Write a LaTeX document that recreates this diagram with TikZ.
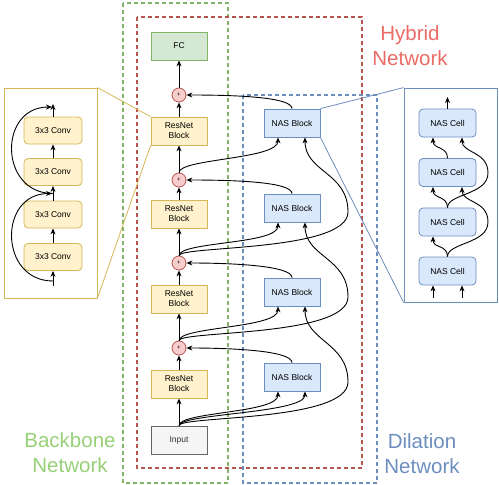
\documentclass[tikz,border=0pt]{standalone}
\usepackage{fontspec}
\setmainfont{Liberation Sans}
\usetikzlibrary{arrows.meta}
\definecolor{ylwfill}{HTML}{FFF2CC}
\definecolor{ylwline}{HTML}{D6B656}
\definecolor{blufill}{HTML}{DAE8FC}
\definecolor{bluline}{HTML}{6C8EBF}
\definecolor{grnfill}{HTML}{D5E8D4}
\definecolor{grnline}{HTML}{82B366}
\definecolor{redfill}{HTML}{F8CECC}
\definecolor{redline}{HTML}{B85450}
\definecolor{gryfill}{HTML}{F5F5F5}
\definecolor{gryline}{HTML}{666666}
\definecolor{hybtext}{HTML}{EA6B66}
\definecolor{bbtext}{HTML}{97D077}
\definecolor{diltext}{HTML}{6C8EBF}

\begin{document}
\begin{tikzpicture}[x=1pt,y=-1pt,
		box/.style={draw,line width=0.8pt,minimum width=56pt,minimum height=28pt,inner sep=0pt,align=center,font=\fontsize{8.5}{10}\selectfont},
		resblock/.style={box,draw=ylwline,fill=ylwfill},
		nasblock/.style={box,draw=bluline,fill=blufill},
		convbox/.style={resblock,rounded corners=4pt,minimum width=58pt,minimum height=27pt},
		cellbox/.style={nasblock,rounded corners=4pt,minimum width=57pt},
		plus/.style={circle,draw=redline,fill=redfill,line width=0.8pt,minimum size=14pt,inner sep=0pt,font=\fontsize{6}{6}\selectfont},
		arr/.style={-{Stealth[length=6pt,width=5pt]},line width=0.9pt},
		frame/.style={line width=1.1pt,dash pattern=on 4pt off 3pt},
		bigtext/.style={align=center,font=\fontsize{20.5}{25}\selectfont}]
		\useasboundingbox (0,0) rectangle (499,485);
		\draw[frame,draw=grnline] (123,3) rectangle (228,483);
		\draw[frame,draw=redline] (137,17) rectangle (362,468);
		\draw[frame,draw=bluline] (243,95) rectangle (377,483);
		\node[bigtext,text=hybtext] (hyblabel) at (410,46) {Hybrid\\Network};
		\node[bigtext,text=bbtext] (bblabel) at (70,453) {Backbone\\Network};
		\node[bigtext,text=diltext] (dillabel) at (422,454) {Dilation\\Network};

		\node[box,draw=grnline,fill=grnfill] (fc) at (179,46) {FC};
		\node[plus] (p1) at (179,95) {+};
		\node[resblock] (res1) at (179,131) {ResNet\\Block};
		\node[plus] (p2) at (179,180) {+};
		\node[resblock] (res2) at (179,214) {ResNet\\Block};
		\node[plus] (p3) at (179,263) {+};
		\node[resblock] (res3) at (179,299) {ResNet\\Block};
		\node[plus] (p4) at (179,348) {+};
		\node[resblock] (res4) at (179,384) {ResNet\\Block};
		\node[box,draw=gryline,fill=gryfill,text=black!80] (in) at (179,440) {Input};
		\node[nasblock] (nas1) at (292,123) {NAS Block};
		\node[nasblock] (nas2) at (292,208) {NAS Block};
		\node[nasblock] (nas3) at (292,292) {NAS Block};
		\node[nasblock] (nas4) at (292,377) {NAS Block};

		\draw[arr] (in) -- (res4);
		\draw[arr] (res4) -- (p4);
		\draw[arr] (p4) -- (res3);
		\draw[arr] (res3) -- (p3);
		\draw[arr] (p3) -- (res2);
		\draw[arr] (res2) -- (p2);
		\draw[arr] (p2) -- (res1);
		\draw[arr] (res1) -- (p1);
		\draw[arr] (p1) -- (fc);

		\draw[arr] (nas1.north) .. controls +(0,-12) and +(45,0) .. (p1.east);
		\draw[arr] (nas2.north) .. controls +(0,-12) and +(45,0) .. (p2.east);
		\draw[arr] (nas3.north) .. controls +(0,-12) and +(45,0) .. (p3.east);
		\draw[arr] (nas4.north) .. controls +(0,-12) and +(45,0) .. (p4.east);

		\draw[arr] (p2.north) .. controls +(0,-14) and +(0,22) .. ([xshift=-14pt]nas1.south);
		\draw[arr] (p3.north) .. controls +(0,-14) and +(0,22) .. ([xshift=-14pt]nas2.south);
		\draw[arr] (p4.north) .. controls +(0,-14) and +(0,22) .. ([xshift=-14pt]nas3.south);
		\draw[arr] (in.north) .. controls +(0,-14) and +(0,22) .. ([xshift=-14pt]nas4.south);
		\draw[arr] (in.north) .. controls +(0,-12) and +(0,22) .. ([xshift=13pt]nas4.south);

		\draw[arr] (p3.north) .. controls +(0,-10) and +(0,40) .. (348,212) .. controls +(0,-40) and +(0,35) .. ([xshift=13pt]nas1.south);
		\draw[arr] (p4.north) .. controls +(0,-10) and +(0,40) .. (348,297) .. controls +(0,-40) and +(0,35) .. ([xshift=13pt]nas2.south);
		\draw[arr] (in.north) .. controls +(0,-10) and +(0,40) .. (348,382) .. controls +(0,-40) and +(0,35) .. ([xshift=13pt]nas3.south);

		\node[draw=ylwline,line width=0.8pt,minimum width=93pt,minimum height=210pt] (zoomres) at (50.5,193) {};
		\draw[ylwline,line width=0.8pt] (zoomres.north east) -- (res1.north west);
		\draw[ylwline,line width=0.8pt] (zoomres.south east) -- (res1.south west);
		\node[convbox] (conv1) at (53,130.5) {3x3 Conv};
		\node[convbox] (conv2) at (53,172) {3x3 Conv};
		\node[convbox] (conv3) at (53,214.5) {3x3 Conv};
		\node[convbox] (conv4) at (53,257) {3x3 Conv};
		\coordinate (resin) at (53,286);
		\coordinate (resmid) at (53,193.5);
		\coordinate (resout) at (53,104);
		\draw[arr] (resin) -- (conv4);
		\draw[arr] (conv4) -- (conv3);
		\draw[arr] (conv3) -- (conv2);
		\draw[arr] (conv2) -- (conv1);
		\draw[arr] (conv1) -- (resout);
		\draw[arr] ([yshift=5pt]resin) .. controls +(-54,0) and +(-54,0) .. ([xshift=-1pt]resmid);
		\draw[arr] (resmid) .. controls +(-54,0) and +(-54,0) .. ([xshift=-1pt,yshift=-3pt]resout);

		\node[draw=bluline,line width=0.8pt,minimum width=93pt,minimum height=214pt] (zoomnas) at (450.5,195) {};
		\draw[bluline,line width=0.8pt] (zoomnas.north west) -- (nas1.north east);
		\draw[bluline,line width=0.8pt] (zoomnas.south west) -- (nas1.south east);
		\node[cellbox] (cell1) at (447.5,123) {NAS Cell};
		\node[cellbox] (cell2) at (447.5,172.5) {NAS Cell};
		\node[cellbox] (cell3) at (447.5,222) {NAS Cell};
		\node[cellbox] (cell4) at (447.5,271) {NAS Cell};
		\coordinate (cellinl) at (433,298);
		\coordinate (cellinr) at (462,298);
		\coordinate (cellout) at (447.5,97);
		\draw[arr] (cellinl) -- (cellinl |- cell4.south);
		\draw[arr] (cellinr) -- (cellinr |- cell4.south);
		\draw[arr] (cell1) -- (cellout);
		\draw[arr] (cell4.north) .. controls +(0,-12) and +(0,12) .. ([xshift=-14.5pt]cell3.south);
		\draw[arr] (cell3.north) .. controls +(0,-12) and +(0,12) .. ([xshift=-14.5pt]cell2.south);
		\draw[arr] (cell2.north) .. controls +(0,-12) and +(0,12) .. ([xshift=-14.5pt]cell1.south);
		\draw[arr] (cell4.north) .. controls +(0,-14) and +(0,22) .. (488,222) .. controls +(0,-22) and +(0,16) .. ([xshift=14.5pt]cell2.south);
		\draw[arr] (cell3.north) .. controls +(0,-14) and +(0,22) .. (488,173) .. controls +(0,-22) and +(0,16) .. ([xshift=14.5pt]cell1.south);
	\end{tikzpicture}
\end{document}
